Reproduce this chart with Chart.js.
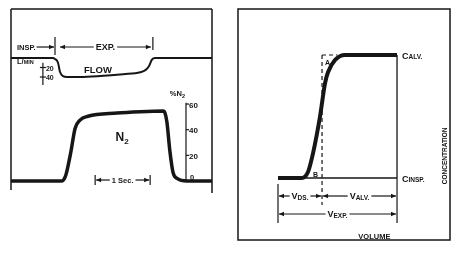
<!DOCTYPE html>
<html>
<head>
<meta charset="utf-8">
<script src="https://cdn.jsdelivr.net/npm/chart.js@4.4.0/dist/chart.umd.min.js"></script>
<style>
  html, body { margin: 0; padding: 0; background: #fff; }
  #wrap { position: relative; width: 474px; height: 264px; }
  canvas { position: absolute; top: 0; }
  #left { left: 0; }
  #right { left: 237px; }
</style>
</head>
<body>
<div id="wrap">
  <canvas id="left" width="237" height="264"></canvas>
  <canvas id="right" width="237" height="264"></canvas>
</div>
<script>
// --- left panel: flow and N2 against time (s) ---
const flowTime   = [0, 0.76, 0.80, 0.855, 0.89, 0.945, 1.02, 1.25, 1.62, 2.04, 2.35, 2.45, 2.51, 2.56, 2.62, 3.66];
const flowValues = [0, 0,    2,    10,    29,   38,    40,   40,   38,   34,   30,   25,   17,   4,    0,    0];
const n2Time   = [0, 0.93, 0.965, 1.0, 1.09, 1.165, 1.255, 1.40, 1.93, 2.35, 2.765, 2.80, 2.835, 2.89, 2.945, 3.02, 3.20, 3.66];
const n2Values = [0, 0,    1.5,   5,   23,   41,    47.5,  50.5, 53,   54,   54.5,  53,   46,    23,   7,     2,    0,    0];
const n2Ticks = [60, 40, 20];
const flowTicks = [20, 40];
const inspEnd = 0.80;   // end of inspiration (s)
const expEnd = 2.58;    // end of expiration (s)
const secStart = 1.53;  // 1 s marker

// --- right panel: concentration against expired volume ---
const volume        = [0, 20, 25.2, 29.4, 35.3, 39.5, 42, 48, 56.3, 100];
const concentration = [0, 0,  4.9,  20,   50,   77,   86, 96, 100,  100];
const vDeadSpace = 37;
const vExp = 100;
const cInsp = 0;
const cAlv = 100;

const INK = '#161616';
const FONT = "'Liberation Sans', 'DejaVu Sans', sans-serif";
const font = (size) => `bold ${size}px ${FONT}`;

function seg(ctx, x1, y1, x2, y2) {
    ctx.beginPath();
    ctx.moveTo(x1, y1);
    ctx.lineTo(x2, y2);
    ctx.stroke();
}

function head(ctx, x, y, dir) {
    ctx.beginPath();
    ctx.moveTo(x, y);
    ctx.lineTo(x - dir * 5, y - 2.2);
    ctx.lineTo(x - dir * 5, y + 2.2);
    ctx.closePath();
    ctx.fill();
}

function textWidth(ctx, parts) {
    let w = 0;
    parts.forEach(([t, s]) => { ctx.font = font(s); w += ctx.measureText(t).width; });
    return w;
}

// parts: [text, size, dy]; y is the baseline
function richText(ctx, parts, x, y, align) {
    const w = textWidth(ctx, parts);
    let cx = align === 'center' ? x - w / 2 : align === 'right' ? x - w : x;
    ctx.textAlign = 'left';
    ctx.textBaseline = 'alphabetic';
    parts.forEach(([t, s, dy = 0]) => {
        ctx.font = font(s);
        ctx.fillText(t, cx, y + dy);
        cx += ctx.measureText(t).width;
    });
    return w;
}

// double arrow between x1 and x2 with a label in the middle
function span(ctx, x1, x2, y, parts) {
    const w = textWidth(ctx, parts);
    const cx = (x1 + x2) / 2;
    richText(ctx, parts, cx, y + 3, 'center');
    seg(ctx, x1, y, cx - w / 2 - 2, y);
    seg(ctx, cx + w / 2 + 2, y, x2, y);
    head(ctx, x1, y, -1);
    head(ctx, x2, y, 1);
}

const leftDecor = {
    id: 'leftDecor',
    afterDraw(chart) {
        const { ctx, chartArea: a, scales: { x, yFlow, yN2 } } = chart;
        ctx.save();
        ctx.strokeStyle = INK;
        ctx.fillStyle = INK;
        ctx.lineWidth = 1.5;

        // open frame
        seg(ctx, a.left, a.top, a.right, a.top);
        seg(ctx, a.left, a.top, a.left, a.bottom);
        seg(ctx, a.right, a.top, a.right, a.bottom + 3);

        // phase marks
        const xi = x.getPixelForValue(inspEnd);
        const xe = x.getPixelForValue(expEnd);
        const base = yFlow.getPixelForValue(0);
        ctx.lineWidth = 1.2;
        seg(ctx, xi, base - 21, xi, base - 3);
        seg(ctx, xe, base - 21, xe, base - 8);
        const ya = base - 11;
        const wInsp = richText(ctx, [['INSP.', 7.5]], a.left + 6, ya + 3, 'left');
        seg(ctx, a.left + 6 + wInsp + 1, ya, xi - 1, ya);
        head(ctx, xi - 1, ya, 1);
        span(ctx, xi + 5, xe - 2, ya, [['EXP.', 9]]);

        // flow scale
        const xs = x.getPixelForValue(0.58);
        seg(ctx, xs, yFlow.getPixelForValue(10), xs, yFlow.getPixelForValue(57));
        flowTicks.forEach(v => {
            const yy = yFlow.getPixelForValue(v);
            seg(ctx, xs - 3, yy, xs + 3, yy);
            richText(ctx, [[String(v), 7]], xs + 3, yy + 3, 'left');
        });
        richText(ctx, [['L/', 7.5], ['MIN', 5.5]], a.left + 6, yFlow.getPixelForValue(12), 'left');
        richText(ctx, [['FLOW', 9.5]], x.getPixelForValue(1.58), yFlow.getPixelForValue(31), 'center');

        // N2 scale
        const xn = x.getPixelForValue(3.182);
        seg(ctx, xn, yN2.getPixelForValue(0), xn, yN2.getPixelForValue(61));
        n2Ticks.forEach(v => {
            const yy = yN2.getPixelForValue(v);
            seg(ctx, xn, yy, xn + 3, yy);
            richText(ctx, [[String(v), 8]], xn + 3, yy + 3.5, 'left');
        });
        richText(ctx, [['0', 7.5]], xn + 4, yN2.getPixelForValue(1), 'left');
        richText(ctx, [['%N', 7.5], ['2', 5.5, 2]], xn - 1, yN2.getPixelForValue(66), 'right');
        richText(ctx, [['N', 12], ['2', 8, 3]], x.getPixelForValue(2.02), yN2.getPixelForValue(31), 'center');

        // 1 second marker
        const s1 = x.getPixelForValue(secStart);
        const s2 = x.getPixelForValue(secStart + 1);
        const ys = yN2.getPixelForValue(0) - 1;
        ctx.lineWidth = 1.2;
        seg(ctx, s1, ys - 5, s1, ys + 5);
        seg(ctx, s2, ys - 5, s2, ys + 5);
        span(ctx, s1 + 1, s2 - 1, ys, [['1 Sec.', 7.5]]);
        ctx.restore();
    }
};

const rightDecor = {
    id: 'rightDecor',
    afterDraw(chart) {
        const { ctx, chartArea: a, scales: { x, y } } = chart;
        ctx.save();
        ctx.strokeStyle = INK;
        ctx.fillStyle = INK;
        ctx.lineWidth = 1.5;
        ctx.strokeRect(a.left, a.top, a.right - a.left, a.bottom - a.top);

        const x0 = x.getPixelForValue(0);
        const xd = x.getPixelForValue(vDeadSpace);
        const xe = x.getPixelForValue(vExp);
        const yi = y.getPixelForValue(cInsp);
        const ya = y.getPixelForValue(cAlv);
        const y1 = yi + 18;
        const y2 = yi + 36;

        ctx.lineWidth = 1.2;
        seg(ctx, x0, yi + 6, x0, y2 + 9);
        seg(ctx, xe, yi, xe, y2 + 9);

        // dashed dead-space boundary
        ctx.setLineDash([4, 3]);
        seg(ctx, xd, ya, xd, yi + 27);
        seg(ctx, xd, ya, x.getPixelForValue(50), ya);
        ctx.setLineDash([]);

        span(ctx, x0 + 1, xd - 1, y1, [['V', 9], ['DS.', 6.5, 1]]);
        span(ctx, xd + 1, xe - 1, y1, [['V', 9], ['ALV.', 6.5, 1]]);
        span(ctx, x0 + 1, xe - 1, y2, [['V', 9], ['EXP.', 6.5, 1]]);

        richText(ctx, [['A', 7]], xd + 3, ya + 10, 'left');
        richText(ctx, [['B', 7]], xd - 9, yi - 1, 'left');
        richText(ctx, [['C', 9], ['ALV.', 6.5]], xe + 5, ya + 3.5, 'left');
        richText(ctx, [['C', 9], ['INSP.', 6.5]], xe + 5, yi + 3.5, 'left');
        richText(ctx, [['VOLUME', 7.5]], x.getPixelForValue(81), a.bottom - 1, 'center');

        ctx.translate(a.right - 3.5, y.getPixelForValue(18));
        ctx.rotate(-Math.PI / 2);
        richText(ctx, [['CONCENTRATION', 6.5]], 0, 0, 'center');
        ctx.restore();
    }
};

const toPoints = (xs, ys) => xs.map((v, i) => ({ x: v, y: ys[i] }));

new Chart(document.getElementById('left'), {
    type: 'line',
    data: {
        datasets: [
            {
                label: 'Flow',
                data: toPoints(flowTime, flowValues),
                yAxisID: 'yFlow',
                borderColor: INK,
                borderWidth: 2,
                pointRadius: 0,
                cubicInterpolationMode: 'monotone'
            },
            {
                label: 'N2',
                data: toPoints(n2Time, n2Values),
                yAxisID: 'yN2',
                borderColor: INK,
                borderWidth: 3.5,
                pointRadius: 0,
                cubicInterpolationMode: 'monotone'
            }
        ]
    },
    options: {
        responsive: false,
        animation: false,
        devicePixelRatio: 1,
        layout: { padding: { left: 11, top: 9, right: 25, bottom: 74 } },
        plugins: { legend: { display: false }, tooltip: { enabled: false } },
        scales: {
            x: { type: 'linear', min: 0, max: 3.655, display: false },
            yFlow: { type: 'linear', reverse: true, min: -103.2, max: 277.9, display: false },
            yN2: { type: 'linear', min: -7, max: 134.1, display: false }
        }
    },
    plugins: [leftDecor]
});

new Chart(document.getElementById('right'), {
    type: 'line',
    data: {
        datasets: [
            {
                label: 'Concentration',
                data: toPoints(volume, concentration),
                borderColor: INK,
                borderWidth: 4,
                pointRadius: 0,
                cubicInterpolationMode: 'monotone'
            },
            {
                label: 'C insp',
                data: toPoints([volume[1], vExp], [cInsp, cInsp]),
                borderColor: INK,
                borderWidth: 1.3,
                pointRadius: 0
            },
            {
                label: 'V exp end',
                data: toPoints([vExp, vExp], [cAlv, cInsp]),
                borderColor: INK,
                borderWidth: 1.3,
                pointRadius: 0
            }
        ]
    },
    options: {
        responsive: false,
        animation: false,
        devicePixelRatio: 1,
        layout: { padding: { left: 1, top: 9, right: 24, bottom: 24 } },
        plugins: { legend: { display: false }, tooltip: { enabled: false } },
        scales: {
            x: { type: 'linear', min: -33.6, max: 144.5, display: false },
            y: { type: 'linear', min: -50.4, max: 137.4, display: false }
        }
    },
    plugins: [rightDecor]
});
</script>
</body>
</html>
